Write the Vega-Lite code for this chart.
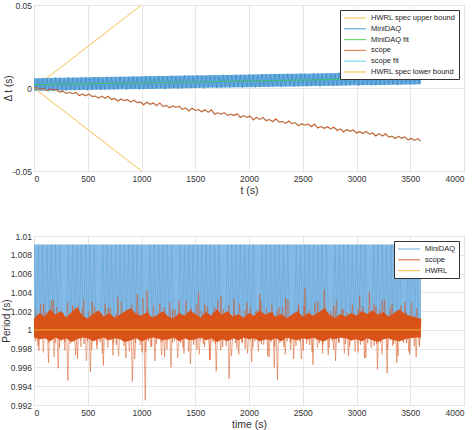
{
"$schema": "https://vega.github.io/schema/vega-lite/v6.json",
"padding": {"left": 0, "top": 0, "right": 0, "bottom": 0},
"bounds": "flush",
"spacing": 65,
"resolve": {"scale": {"color": "independent"}, "legend": {"color": "independent"}},
"config": {
 "font": "Liberation Sans",
 "view": {"stroke": "#7a7a7a", "strokeWidth": 1},
 "axis": {"labelFont": "Liberation Sans", "labelFontSize": 8.5, "labelColor": "#333333", "titleFont": "Liberation Sans", "titleFontSize": 10.5, "titleFontWeight": "normal", "titleColor": "#333333", "gridColor": "#e6e6e6", "domain": false, "ticks": false, "labelPadding": 3, "titlePadding": 3, "labelOverlap": false},
 "axisY": {"titlePadding": -1, "labelPadding": 2.5, "titleFontSize": 10},
 "legend": {"symbolType": "M-1,0H4.5", "symbolSize": 64, "symbolStrokeWidth": 1.2, "labelFont": "Liberation Sans", "labelFontSize": 7.5, "labelColor": "#222222", "rowPadding": 1.8, "padding": 3, "strokeColor": "#333333", "fillColor": "white", "cornerRadius": 0, "labelOffset": 18, "offset": 5, "labelLimit": 200}
},
"datasets": {
 "top_band": [
{"t":0,"v":-0.0017,"v2":0.0058},{"t":200,"v":-0.0015,"v2":0.0062},{"t":400,"v":-0.0012,"v2":0.0064},{"t":600,"v":-0.0011,"v2":0.0066},{"t":800,"v":-0.0008,"v2":0.0068},{"t":1000,"v":-0.0006,"v2":0.0071},{"t":1200,"v":-0.0004,"v2":0.0072},{"t":1400,"v":-0.0002,"v2":0.0075},{"t":1600,"v":0.0001,"v2":0.0077},{"t":1800,"v":0.0003,"v2":0.0079},
{"t":2000,"v":0.0005,"v2":0.0081},{"t":2200,"v":0.0007,"v2":0.0084},{"t":2400,"v":0.0009,"v2":0.0086},{"t":2600,"v":0.0012,"v2":0.0088},{"t":2800,"v":0.0013,"v2":0.009},{"t":3000,"v":0.0016,"v2":0.0092},{"t":3200,"v":0.0018,"v2":0.0095},{"t":3400,"v":0.002,"v2":0.0096},{"t":3600,"v":0.0022,"v2":0.0098}
 ],
 "top_mini": [
{"t":0,"v":0.0058},{"t":20,"v":-0.0018},{"t":40,"v":0.0055},{"t":60,"v":-0.0015},{"t":80,"v":0.0061},{"t":100,"v":-0.0012},{"t":120,"v":0.0059},{"t":140,"v":-0.002},{"t":160,"v":0.0056},
{"t":180,"v":-0.0014},{"t":200,"v":0.0062},{"t":220,"v":-0.0011},{"t":240,"v":0.0059},{"t":260,"v":-0.0017},{"t":280,"v":0.0056},{"t":300,"v":-0.0015},{"t":320,"v":0.0064},{"t":340,"v":-0.0012},
{"t":360,"v":0.0062},{"t":380,"v":-0.0014},{"t":400,"v":0.0059},{"t":420,"v":-0.0011},{"t":440,"v":0.0065},{"t":460,"v":-0.0008},{"t":480,"v":0.0063},{"t":500,"v":-0.0016},{"t":520,"v":0.006},
{"t":540,"v":-0.001},{"t":560,"v":0.0066},{"t":580,"v":-0.0007},{"t":600,"v":0.0063},{"t":620,"v":-0.0013},{"t":640,"v":0.006},{"t":660,"v":-0.0011},{"t":680,"v":0.0068},{"t":700,"v":-0.0008},
{"t":720,"v":0.0066},{"t":740,"v":-0.001},{"t":760,"v":0.0063},{"t":780,"v":-0.0007},{"t":800,"v":0.0069},{"t":820,"v":-0.0004},{"t":840,"v":0.0067},{"t":860,"v":-0.0012},{"t":880,"v":0.0064},
{"t":900,"v":-0.0006},{"t":920,"v":0.007},{"t":940,"v":-0.0003},{"t":960,"v":0.0067},{"t":980,"v":-0.0009},{"t":1000,"v":0.0064},{"t":1020,"v":-0.0007},{"t":1040,"v":0.0072},{"t":1060,"v":-0.0004},
{"t":1080,"v":0.007},{"t":1100,"v":-0.0006},{"t":1120,"v":0.0067},{"t":1140,"v":-0.0003},{"t":1160,"v":0.0073},{"t":1180,"v":0},{"t":1200,"v":0.0071},{"t":1220,"v":-0.0008},{"t":1240,"v":0.0068},
{"t":1260,"v":-0.0002},{"t":1280,"v":0.0074},{"t":1300,"v":0.0001},{"t":1320,"v":0.0071},{"t":1340,"v":-0.0005},{"t":1360,"v":0.0068},{"t":1380,"v":-0.0003},{"t":1400,"v":0.0076},{"t":1420,"v":0},
{"t":1440,"v":0.0074},{"t":1460,"v":-0.0002},{"t":1480,"v":0.0071},{"t":1500,"v":0.0001},{"t":1520,"v":0.0077},{"t":1540,"v":0.0004},{"t":1560,"v":0.0075},{"t":1580,"v":-0.0004},{"t":1600,"v":0.0072},
{"t":1620,"v":0.0002},{"t":1640,"v":0.0078},{"t":1660,"v":0.0005},{"t":1680,"v":0.0075},{"t":1700,"v":-0.0001},{"t":1720,"v":0.0072},{"t":1740,"v":0.0001},{"t":1760,"v":0.008},{"t":1780,"v":0.0004},
{"t":1800,"v":0.0078},{"t":1820,"v":0.0002},{"t":1840,"v":0.0075},{"t":1860,"v":0.0005},{"t":1880,"v":0.0081},{"t":1900,"v":0.0008},{"t":1920,"v":0.0079},{"t":1940,"v":0},{"t":1960,"v":0.0076},
{"t":1980,"v":0.0006},{"t":2000,"v":0.0082},{"t":2020,"v":0.0009},{"t":2040,"v":0.0079},{"t":2060,"v":0.0003},{"t":2080,"v":0.0076},{"t":2100,"v":0.0005},{"t":2120,"v":0.0084},{"t":2140,"v":0.0008},
{"t":2160,"v":0.0082},{"t":2180,"v":0.0006},{"t":2200,"v":0.0079},{"t":2220,"v":0.0009},{"t":2240,"v":0.0085},{"t":2260,"v":0.0012},{"t":2280,"v":0.0083},{"t":2300,"v":0.0004},{"t":2320,"v":0.008},
{"t":2340,"v":0.001},{"t":2360,"v":0.0086},{"t":2380,"v":0.0013},{"t":2400,"v":0.0083},{"t":2420,"v":0.0007},{"t":2440,"v":0.008},{"t":2460,"v":0.0009},{"t":2480,"v":0.0088},{"t":2500,"v":0.0012},
{"t":2520,"v":0.0086},{"t":2540,"v":0.001},{"t":2560,"v":0.0083},{"t":2580,"v":0.0013},{"t":2600,"v":0.0089},{"t":2620,"v":0.0016},{"t":2640,"v":0.0087},{"t":2660,"v":0.0008},{"t":2680,"v":0.0084},
{"t":2700,"v":0.0014},{"t":2720,"v":0.009},{"t":2740,"v":0.0017},{"t":2760,"v":0.0087},{"t":2780,"v":0.0011},{"t":2800,"v":0.0084},{"t":2820,"v":0.0013},{"t":2840,"v":0.0092},{"t":2860,"v":0.0016},
{"t":2880,"v":0.009},{"t":2900,"v":0.0014},{"t":2920,"v":0.0087},{"t":2940,"v":0.0017},{"t":2960,"v":0.0093},{"t":2980,"v":0.002},{"t":3000,"v":0.0091},{"t":3020,"v":0.0012},{"t":3040,"v":0.0088},
{"t":3060,"v":0.0018},{"t":3080,"v":0.0094},{"t":3100,"v":0.0021},{"t":3120,"v":0.0091},{"t":3140,"v":0.0015},{"t":3160,"v":0.0088},{"t":3180,"v":0.0017},{"t":3200,"v":0.0096},{"t":3220,"v":0.002},
{"t":3240,"v":0.0094},{"t":3260,"v":0.0018},{"t":3280,"v":0.0091},{"t":3300,"v":0.0021},{"t":3320,"v":0.0097},{"t":3340,"v":0.0024},{"t":3360,"v":0.0095},{"t":3380,"v":0.0016},{"t":3400,"v":0.0092},
{"t":3420,"v":0.0022},{"t":3440,"v":0.0098},{"t":3460,"v":0.0025},{"t":3480,"v":0.0095},{"t":3500,"v":0.0019},{"t":3520,"v":0.0092},{"t":3540,"v":0.0021},{"t":3560,"v":0.01},{"t":3580,"v":0.0024},
{"t":3600,"v":0.0097}
 ],
 "top_scope": [
{"t":0,"v":0},{"t":30,"v":0.0001},{"t":60,"v":-0.0008},{"t":90,"v":-0.0002},{"t":120,"v":-0.0016},{"t":150,"v":-0.0005},{"t":180,"v":-0.0014},{"t":210,"v":-0.0009},{"t":240,"v":-0.0025},{"t":270,"v":-0.0019},
{"t":300,"v":-0.0033},{"t":330,"v":-0.0026},{"t":360,"v":-0.0034},{"t":390,"v":-0.0026},{"t":420,"v":-0.0046},{"t":450,"v":-0.0036},{"t":480,"v":-0.0048},{"t":510,"v":-0.0035},{"t":540,"v":-0.0051},{"t":570,"v":-0.0049},
{"t":600,"v":-0.0061},{"t":630,"v":-0.0049},{"t":660,"v":-0.0062},{"t":690,"v":-0.0049},{"t":720,"v":-0.007},{"t":750,"v":-0.0063},{"t":780,"v":-0.0079},{"t":810,"v":-0.0066},{"t":840,"v":-0.0076},{"t":870,"v":-0.007},
{"t":900,"v":-0.0085},{"t":930,"v":-0.0073},{"t":960,"v":-0.0088},{"t":990,"v":-0.0085},{"t":1020,"v":-0.0101},{"t":1050,"v":-0.0086},{"t":1080,"v":-0.0098},{"t":1110,"v":-0.009},{"t":1140,"v":-0.0107},{"t":1170,"v":-0.009},
{"t":1200,"v":-0.0111},{"t":1230,"v":-0.0105},{"t":1260,"v":-0.012},{"t":1290,"v":-0.0108},{"t":1320,"v":-0.0117},{"t":1350,"v":-0.0109},{"t":1380,"v":-0.0129},{"t":1410,"v":-0.012},{"t":1440,"v":-0.0139},{"t":1470,"v":-0.0122},
{"t":1500,"v":-0.0135},{"t":1530,"v":-0.013},{"t":1560,"v":-0.0143},{"t":1590,"v":-0.0131},{"t":1620,"v":-0.0147},{"t":1650,"v":-0.0131},{"t":1680,"v":-0.0158},{"t":1710,"v":-0.0149},{"t":1740,"v":-0.0158},{"t":1770,"v":-0.0148},
{"t":1800,"v":-0.0165},{"t":1830,"v":-0.0157},{"t":1860,"v":-0.0166},{"t":1890,"v":-0.0155},{"t":1920,"v":-0.0178},{"t":1950,"v":-0.0166},{"t":1980,"v":-0.0177},{"t":2010,"v":-0.017},{"t":2040,"v":-0.0193},{"t":2070,"v":-0.0177},
{"t":2100,"v":-0.0189},{"t":2130,"v":-0.0178},{"t":2160,"v":-0.0196},{"t":2190,"v":-0.019},{"t":2220,"v":-0.0203},{"t":2250,"v":-0.0186},{"t":2280,"v":-0.0206},{"t":2310,"v":-0.0201},{"t":2340,"v":-0.0213},{"t":2370,"v":-0.0199},
{"t":2400,"v":-0.0215},{"t":2430,"v":-0.0208},{"t":2460,"v":-0.0228},{"t":2490,"v":-0.0215},{"t":2520,"v":-0.0224},{"t":2550,"v":-0.0216},{"t":2580,"v":-0.0233},{"t":2610,"v":-0.0217},{"t":2640,"v":-0.0241},{"t":2670,"v":-0.0232},
{"t":2700,"v":-0.0243},{"t":2730,"v":-0.0233},{"t":2760,"v":-0.0246},{"t":2790,"v":-0.0236},{"t":2820,"v":-0.0256},{"t":2850,"v":-0.0246},{"t":2880,"v":-0.0265},{"t":2910,"v":-0.025},{"t":2940,"v":-0.0261},{"t":2970,"v":-0.0252},
{"t":3000,"v":-0.0271},{"t":3030,"v":-0.0263},{"t":3060,"v":-0.0274},{"t":3090,"v":-0.0261},{"t":3120,"v":-0.0278},{"t":3150,"v":-0.0271},{"t":3180,"v":-0.0289},{"t":3210,"v":-0.0275},{"t":3240,"v":-0.0289},{"t":3270,"v":-0.0276},
{"t":3300,"v":-0.0296},{"t":3330,"v":-0.029},{"t":3360,"v":-0.0304},{"t":3390,"v":-0.0291},{"t":3420,"v":-0.0303},{"t":3450,"v":-0.0294},{"t":3480,"v":-0.0313},{"t":3510,"v":-0.0304},{"t":3540,"v":-0.0316},{"t":3570,"v":-0.0305},
{"t":3600,"v":-0.032}
 ],
 "bot_band": [
{"t":0,"v":1,"v2":1.0091},{"t":3600,"v":1,"v2":1.0091}
 ],
 "bot_core": [
{"t":0,"v2":1.0012,"v":0.9992},{"t":50,"v2":1.0018,"v":0.999},{"t":100,"v2":1.0014,"v":0.9991},{"t":150,"v2":1.0022,"v":0.9988},{"t":200,"v2":1.0016,"v":0.9992},{"t":250,"v2":1.002,"v":0.9989},{"t":300,"v2":1.0013,"v":0.9991},{"t":350,"v2":1.0019,"v":0.9987},{"t":400,"v2":1.0024,"v":0.999},{"t":450,"v2":1.0015,"v":0.9992},
{"t":500,"v2":1.0012,"v":0.9991},{"t":550,"v2":1.0017,"v":0.9988},{"t":600,"v2":1.0021,"v":0.999},{"t":650,"v2":1.0014,"v":0.9992},{"t":700,"v2":1.0018,"v":0.9989},{"t":750,"v2":1.0013,"v":0.9991},{"t":800,"v2":1.0016,"v":0.999},{"t":850,"v2":1.002,"v":0.9987},{"t":900,"v2":1.0023,"v":0.9989},{"t":950,"v2":1.0017,"v":0.9991},
{"t":1000,"v2":1.0015,"v":0.9988},{"t":1050,"v2":1.0019,"v":0.999},{"t":1100,"v2":1.0013,"v":0.9992},{"t":1150,"v2":1.0016,"v":0.9991},{"t":1200,"v2":1.002,"v":0.9989},{"t":1250,"v2":1.0014,"v":0.999},{"t":1300,"v2":1.0012,"v":0.9992},{"t":1350,"v2":1.0018,"v":0.9988},{"t":1400,"v2":1.0015,"v":0.9991},{"t":1450,"v2":1.0021,"v":0.9989},
{"t":1500,"v2":1.0017,"v":0.999},{"t":1550,"v2":1.0013,"v":0.9992},{"t":1600,"v2":1.0019,"v":0.9989},{"t":1650,"v2":1.0015,"v":0.9991},{"t":1700,"v2":1.0022,"v":0.9987},{"t":1750,"v2":1.0016,"v":0.999},{"t":1800,"v2":1.002,"v":0.9988},{"t":1850,"v2":1.0014,"v":0.9991},{"t":1900,"v2":1.0017,"v":0.9989},{"t":1950,"v2":1.0013,"v":0.9992},
{"t":2000,"v2":1.0018,"v":0.999},{"t":2050,"v2":1.0015,"v":0.9991},{"t":2100,"v2":1.0021,"v":0.9988},{"t":2150,"v2":1.0016,"v":0.999},{"t":2200,"v2":1.0019,"v":0.9989},{"t":2250,"v2":1.0014,"v":0.9991},{"t":2300,"v2":1.0017,"v":0.9988},{"t":2350,"v2":1.0012,"v":0.9992},{"t":2400,"v2":1.0016,"v":0.999},{"t":2450,"v2":1.002,"v":0.9989},
{"t":2500,"v2":1.0014,"v":0.9991},{"t":2550,"v2":1.0018,"v":0.999},{"t":2600,"v2":1.0015,"v":0.9992},{"t":2650,"v2":1.0019,"v":0.9989},{"t":2700,"v2":1.0023,"v":0.9988},{"t":2750,"v2":1.0016,"v":0.9991},{"t":2800,"v2":1.0013,"v":0.999},{"t":2850,"v2":1.0017,"v":0.9992},{"t":2900,"v2":1.0014,"v":0.9991},{"t":2950,"v2":1.0018,"v":0.9989},
{"t":3000,"v2":1.0015,"v":0.999},{"t":3050,"v2":1.002,"v":0.9988},{"t":3100,"v2":1.0017,"v":0.9991},{"t":3150,"v2":1.0021,"v":0.9989},{"t":3200,"v2":1.0016,"v":0.9987},{"t":3250,"v2":1.0019,"v":0.999},{"t":3300,"v2":1.0014,"v":0.9991},{"t":3350,"v2":1.0018,"v":0.9989},{"t":3400,"v2":1.0022,"v":0.9988},{"t":3450,"v2":1.0017,"v":0.999},
{"t":3500,"v2":1.0015,"v":0.9991},{"t":3550,"v2":1.0013,"v":0.9992},{"t":3600,"v2":1.0012,"v":0.9992}
 ],
 "bot_spikes": [
{"t":12,"v":1.0022},{"t":37,"v":0.9983},{"t":62,"v":1.0027},{"t":87,"v":0.9976},{"t":112,"v":1.0019},{"t":137,"v":0.9986},{"t":162,"v":1.0031},{"t":187,"v":0.9971},{"t":212,"v":1.0024},{"t":237,"v":0.9981},
{"t":262,"v":1.0018},{"t":287,"v":0.9978},{"t":312,"v":1.0029},{"t":337,"v":0.9985},{"t":362,"v":1.0021},{"t":387,"v":0.9973},{"t":412,"v":1.0026},{"t":437,"v":0.9982},{"t":462,"v":1.0033},{"t":487,"v":0.9967},
{"t":512,"v":1.002},{"t":537,"v":0.9979},{"t":562,"v":1.0025},{"t":587,"v":0.9984},{"t":612,"v":1.0019},{"t":637,"v":0.9975},{"t":662,"v":1.0028},{"t":687,"v":0.9981},{"t":712,"v":1.0023},{"t":737,"v":0.9986},
{"t":762,"v":1.0017},{"t":787,"v":0.9972},{"t":812,"v":1.003},{"t":837,"v":0.9983},{"t":862,"v":1.0022},{"t":887,"v":0.9977},{"t":912,"v":1.0027},{"t":937,"v":0.9969},{"t":962,"v":1.002},{"t":987,"v":0.9984},
{"t":1012,"v":1.0034},{"t":1037,"v":0.9976},{"t":1062,"v":1.0021},{"t":1087,"v":0.9982},{"t":1112,"v":1.0026},{"t":1137,"v":0.9985},{"t":1162,"v":1.0018},{"t":1187,"v":0.9973},{"t":1212,"v":1.0024},{"t":1237,"v":0.9979},
{"t":1262,"v":1.0029},{"t":1287,"v":0.9986},{"t":1312,"v":1.0022},{"t":1337,"v":0.997},{"t":1362,"v":1.0017},{"t":1387,"v":0.9981},{"t":1412,"v":1.0031},{"t":1437,"v":0.9977},{"t":1462,"v":1.0023},{"t":1487,"v":0.9984},
{"t":1512,"v":1.0027},{"t":1537,"v":0.9974},{"t":1562,"v":1.002},{"t":1587,"v":0.9982},{"t":1612,"v":1.0025},{"t":1637,"v":0.9968},{"t":1662,"v":1.0019},{"t":1687,"v":0.9985},{"t":1712,"v":1.0032},{"t":1737,"v":0.9978},
{"t":1762,"v":1.0022},{"t":1787,"v":0.9983},{"t":1812,"v":1.0026},{"t":1837,"v":0.9972},{"t":1862,"v":1.0018},{"t":1887,"v":0.998},{"t":1912,"v":1.0028},{"t":1937,"v":0.9986},{"t":1962,"v":1.0021},{"t":1987,"v":0.9975},
{"t":2012,"v":1.0024},{"t":2037,"v":0.9981},{"t":2062,"v":1.0019},{"t":2087,"v":0.9977},{"t":2112,"v":1.003},{"t":2137,"v":0.9984},{"t":2162,"v":1.0023},{"t":2187,"v":0.9971},{"t":2212,"v":1.0027},{"t":2237,"v":0.9982},
{"t":2262,"v":1.002},{"t":2287,"v":0.9986},{"t":2312,"v":1.0025},{"t":2337,"v":0.9974},{"t":2362,"v":1.0033},{"t":2387,"v":0.9979},{"t":2412,"v":1.0018},{"t":2437,"v":0.9983},{"t":2462,"v":1.0022},{"t":2487,"v":0.9969},
{"t":2512,"v":1.0026},{"t":2537,"v":0.9985},{"t":2562,"v":1.0021},{"t":2587,"v":0.9976},{"t":2612,"v":1.0029},{"t":2637,"v":0.9981},{"t":2662,"v":1.0017},{"t":2687,"v":0.9984},{"t":2712,"v":1.0024},{"t":2737,"v":0.9973},
{"t":2762,"v":1.002},{"t":2787,"v":0.9979},{"t":2812,"v":1.0031},{"t":2837,"v":0.9986},{"t":2862,"v":1.0023},{"t":2887,"v":0.9975},{"t":2912,"v":1.0019},{"t":2937,"v":0.9982},{"t":2962,"v":1.0027},{"t":2987,"v":0.9977},
{"t":3012,"v":1.0022},{"t":3037,"v":0.9984},{"t":3062,"v":1.0025},{"t":3087,"v":0.997},{"t":3112,"v":1.0018},{"t":3137,"v":0.9981},{"t":3162,"v":1.0028},{"t":3187,"v":0.9985},{"t":3212,"v":1.0021},{"t":3237,"v":0.9974},
{"t":3262,"v":1.0032},{"t":3287,"v":0.9979},{"t":3312,"v":1.0024},{"t":3337,"v":0.9983},{"t":3362,"v":1.002},{"t":3387,"v":0.9972},{"t":3412,"v":1.0026},{"t":3437,"v":0.9986},{"t":3462,"v":1.0019},{"t":3487,"v":0.9977},
{"t":3512,"v":1.0029},{"t":3537,"v":0.9982},{"t":3562,"v":1.0023},{"t":3587,"v":0.9984}
 ],
 "bot_mini": [
{"t":0,"v":1.0091},{"t":20,"v":0.9999},{"t":40,"v":1.0091},{"t":60,"v":1.0002},{"t":80,"v":1.0091},{"t":100,"v":0.9998},{"t":120,"v":1.009},{"t":140,"v":1.0001},{"t":160,"v":1.0091},{"t":180,"v":0.9999},
{"t":200,"v":1.0091},{"t":220,"v":1.0002},{"t":240,"v":1.0091},{"t":260,"v":0.9998},{"t":280,"v":1.0001},{"t":300,"v":1.0001},{"t":320,"v":1.0091},{"t":340,"v":0.9999},{"t":360,"v":1.0091},{"t":380,"v":1.0002},
{"t":400,"v":1.009},{"t":420,"v":0.9998},{"t":440,"v":1.0091},{"t":460,"v":1.0001},{"t":480,"v":1.0091},{"t":500,"v":0.9999},{"t":520,"v":1.0091},{"t":540,"v":1.0002},{"t":560,"v":1.0091},{"t":580,"v":0.9998},
{"t":600,"v":1.0001},{"t":620,"v":1.0001},{"t":640,"v":1.0091},{"t":660,"v":0.9999},{"t":680,"v":1.0091},{"t":700,"v":1.0002},{"t":720,"v":1.009},{"t":740,"v":0.9998},{"t":760,"v":1.0091},{"t":780,"v":1.0001},
{"t":800,"v":1.0091},{"t":820,"v":0.9999},{"t":840,"v":1.0091},{"t":860,"v":1.0002},{"t":880,"v":1.0091},{"t":900,"v":0.9998},{"t":920,"v":1.0091},{"t":940,"v":1.0001},{"t":960,"v":1.0091},{"t":980,"v":0.9999},
{"t":1000,"v":1.009},{"t":1020,"v":1.0002},{"t":1040,"v":1.0001},{"t":1060,"v":0.9998},{"t":1080,"v":1.0091},{"t":1100,"v":1.0001},{"t":1120,"v":1.0091},{"t":1140,"v":0.9999},{"t":1160,"v":1.0091},{"t":1180,"v":1.0002},
{"t":1200,"v":1.0091},{"t":1220,"v":0.9998},{"t":1240,"v":1.0091},{"t":1260,"v":1.0001},{"t":1280,"v":1.0091},{"t":1300,"v":0.9999},{"t":1320,"v":1.0001},{"t":1340,"v":1.0002},{"t":1360,"v":1.0091},{"t":1380,"v":0.9998},
{"t":1400,"v":1.009},{"t":1420,"v":1.0001},{"t":1440,"v":1.0091},{"t":1460,"v":0.9999},{"t":1480,"v":1.0091},{"t":1500,"v":1.0002},{"t":1520,"v":1.0091},{"t":1540,"v":0.9998},{"t":1560,"v":1.0091},{"t":1580,"v":1.0001},
{"t":1600,"v":1.0091},{"t":1620,"v":0.9999},{"t":1640,"v":1.0091},{"t":1660,"v":1.0002},{"t":1680,"v":1.009},{"t":1700,"v":0.9998},{"t":1720,"v":1.0091},{"t":1740,"v":1.0001},{"t":1760,"v":1.0001},{"t":1780,"v":0.9999},
{"t":1800,"v":1.0091},{"t":1820,"v":1.0002},{"t":1840,"v":1.0091},{"t":1860,"v":0.9998},{"t":1880,"v":1.0091},{"t":1900,"v":1.0001},{"t":1920,"v":1.0091},{"t":1940,"v":0.9999},{"t":1960,"v":1.0091},{"t":1980,"v":1.0002},
{"t":2000,"v":1.009},{"t":2020,"v":0.9998},{"t":2040,"v":1.0091},{"t":2060,"v":1.0001},{"t":2080,"v":1.0001},{"t":2100,"v":0.9999},{"t":2120,"v":1.0091},{"t":2140,"v":1.0002},{"t":2160,"v":1.0091},{"t":2180,"v":0.9998},
{"t":2200,"v":1.0091},{"t":2220,"v":1.0001},{"t":2240,"v":1.0091},{"t":2260,"v":0.9999},{"t":2280,"v":1.0091},{"t":2300,"v":1.0002},{"t":2320,"v":1.009},{"t":2340,"v":0.9998},{"t":2360,"v":1.0091},{"t":2380,"v":1.0001},
{"t":2400,"v":1.0001},{"t":2420,"v":0.9999},{"t":2440,"v":1.0091},{"t":2460,"v":1.0002},{"t":2480,"v":1.0091},{"t":2500,"v":0.9998},{"t":2520,"v":1.0091},{"t":2540,"v":1.0001},{"t":2560,"v":1.0091},{"t":2580,"v":0.9999},
{"t":2600,"v":1.0091},{"t":2620,"v":1.0002},{"t":2640,"v":1.009},{"t":2660,"v":0.9998},{"t":2680,"v":1.0091},{"t":2700,"v":1.0001},{"t":2720,"v":1.0091},{"t":2740,"v":0.9999},{"t":2760,"v":1.0001},{"t":2780,"v":1.0002},
{"t":2800,"v":1.0091},{"t":2820,"v":0.9998},{"t":2840,"v":1.0091},{"t":2860,"v":1.0001},{"t":2880,"v":1.0091},{"t":2900,"v":0.9999},{"t":2920,"v":1.0091},{"t":2940,"v":1.0002},{"t":2960,"v":1.009},{"t":2980,"v":0.9998},
{"t":3000,"v":1.0091},{"t":3020,"v":1.0001},{"t":3040,"v":1.0091},{"t":3060,"v":0.9999},{"t":3080,"v":1.0091},{"t":3100,"v":1.0002},{"t":3120,"v":1.0001},{"t":3140,"v":0.9998},{"t":3160,"v":1.0091},{"t":3180,"v":1.0001},
{"t":3200,"v":1.0091},{"t":3220,"v":0.9999},{"t":3240,"v":1.0091},{"t":3260,"v":1.0002},{"t":3280,"v":1.009},{"t":3300,"v":0.9998},{"t":3320,"v":1.0091},{"t":3340,"v":1.0001},{"t":3360,"v":1.0091},{"t":3380,"v":0.9999},
{"t":3400,"v":1.0091},{"t":3420,"v":1.0002},{"t":3440,"v":1.0001},{"t":3460,"v":0.9998},{"t":3480,"v":1.0091},{"t":3500,"v":1.0001},{"t":3520,"v":1.0091},{"t":3540,"v":0.9999},{"t":3560,"v":1.0091},{"t":3580,"v":1.0002},
{"t":3600,"v":1.0011}
 ],
 "bot_scope": [
{"t":0,"v":1.0009},{"t":15,"v":0.9988},{"t":30,"v":1.0015},{"t":45,"v":0.9978},{"t":60,"v":1.0008},{"t":75,"v":0.999},{"t":90,"v":1.0028},{"t":105,"v":0.9991},{"t":120,"v":1.0011},{"t":135,"v":0.9965},
{"t":150,"v":1.0012},{"t":165,"v":0.9992},{"t":180,"v":1.0032},{"t":195,"v":0.9986},{"t":210,"v":1.001},{"t":225,"v":0.9959},{"t":240,"v":1.0009},{"t":255,"v":0.9989},{"t":270,"v":1.0018},{"t":285,"v":0.9987},
{"t":300,"v":1.0014},{"t":315,"v":0.9946},{"t":330,"v":1.001},{"t":345,"v":0.9991},{"t":360,"v":1.0026},{"t":375,"v":0.9988},{"t":390,"v":1.0008},{"t":405,"v":0.9969},{"t":420,"v":1.0013},{"t":435,"v":0.999},
{"t":450,"v":1.0022},{"t":465,"v":0.9985},{"t":480,"v":1.0009},{"t":495,"v":0.9988},{"t":510,"v":1.0011},{"t":525,"v":0.9955},{"t":540,"v":1.003},{"t":555,"v":0.9992},{"t":570,"v":1.0012},{"t":585,"v":0.998},
{"t":600,"v":1.001},{"t":615,"v":0.9987},{"t":630,"v":1.0017},{"t":645,"v":0.9962},{"t":660,"v":1.0009},{"t":675,"v":0.9989},{"t":690,"v":1.0024},{"t":705,"v":0.9991},{"t":720,"v":1.0014},{"t":735,"v":0.9973},
{"t":750,"v":1.0011},{"t":765,"v":0.9984},{"t":780,"v":1.0035},{"t":795,"v":0.999},{"t":810,"v":1.0012},{"t":825,"v":0.9988},{"t":840,"v":1.0009},{"t":855,"v":0.997},{"t":870,"v":1.0019},{"t":885,"v":0.9989},
{"t":900,"v":1.0013},{"t":915,"v":0.9945},{"t":930,"v":1.001},{"t":945,"v":0.9986},{"t":960,"v":1.0038},{"t":975,"v":0.9991},{"t":990,"v":1.0012},{"t":1005,"v":0.9976},{"t":1020,"v":1.0011},{"t":1035,"v":0.9925},
{"t":1050,"v":1.0042},{"t":1065,"v":0.9988},{"t":1080,"v":1.0009},{"t":1095,"v":0.9982},{"t":1110,"v":1.0014},{"t":1125,"v":0.9967},{"t":1140,"v":1.0011},{"t":1155,"v":0.999},{"t":1170,"v":1.0028},{"t":1185,"v":0.9987},
{"t":1200,"v":1.001},{"t":1215,"v":0.9971},{"t":1230,"v":1.0016},{"t":1245,"v":0.9989},{"t":1260,"v":1.0009},{"t":1275,"v":0.996},{"t":1290,"v":1.0022},{"t":1305,"v":0.9988},{"t":1320,"v":1.0013},{"t":1335,"v":0.9991},
{"t":1350,"v":1.0031},{"t":1365,"v":0.9986},{"t":1380,"v":1.0011},{"t":1395,"v":0.9975},{"t":1410,"v":1.0012},{"t":1425,"v":0.999},{"t":1440,"v":1.0018},{"t":1455,"v":0.9964},{"t":1470,"v":1.0009},{"t":1485,"v":0.9988},
{"t":1500,"v":1.0014},{"t":1515,"v":0.9979},{"t":1530,"v":1.004},{"t":1545,"v":0.9989},{"t":1560,"v":1.001},{"t":1575,"v":0.9985},{"t":1590,"v":1.0027},{"t":1605,"v":0.9991},{"t":1620,"v":1.0012},{"t":1635,"v":0.9968},
{"t":1650,"v":1.0011},{"t":1665,"v":0.9987},{"t":1680,"v":1.0024},{"t":1695,"v":0.9956},{"t":1710,"v":1.0009},{"t":1725,"v":0.9988},{"t":1740,"v":1.0036},{"t":1755,"v":0.9982},{"t":1770,"v":1.0013},{"t":1785,"v":0.999},
{"t":1800,"v":1.0015},{"t":1815,"v":0.9948},{"t":1830,"v":1.001},{"t":1845,"v":0.9989},{"t":1860,"v":1.0033},{"t":1875,"v":0.9986},{"t":1890,"v":1.0012},{"t":1905,"v":0.9974},{"t":1920,"v":1.0009},{"t":1935,"v":0.9987},
{"t":1950,"v":1.0012},{"t":1965,"v":0.998},{"t":1980,"v":1.0029},{"t":1995,"v":0.999},{"t":2010,"v":1.0011},{"t":2025,"v":0.9966},{"t":2040,"v":1.0014},{"t":2055,"v":0.9988},{"t":2070,"v":1.0021},{"t":2085,"v":0.9991},
{"t":2100,"v":1.0038},{"t":2115,"v":0.9985},{"t":2130,"v":1.001},{"t":2145,"v":0.9989},{"t":2160,"v":1.0013},{"t":2175,"v":0.9972},{"t":2190,"v":1.0009},{"t":2205,"v":0.9987},{"t":2220,"v":1.0019},{"t":2235,"v":0.996},
{"t":2250,"v":1.0012},{"t":2265,"v":0.9947},{"t":2280,"v":1.0024},{"t":2295,"v":0.999},{"t":2310,"v":1.0011},{"t":2325,"v":0.9982},{"t":2340,"v":1.0034},{"t":2355,"v":0.9988},{"t":2370,"v":1.0009},{"t":2385,"v":0.9986},
{"t":2400,"v":1.0016},{"t":2415,"v":0.9969},{"t":2430,"v":1.0012},{"t":2445,"v":0.9991},{"t":2460,"v":1.0027},{"t":2475,"v":0.9987},{"t":2490,"v":1.001},{"t":2505,"v":0.9978},{"t":2520,"v":1.0045},{"t":2535,"v":0.9989},
{"t":2550,"v":1.0009},{"t":2565,"v":0.9984},{"t":2580,"v":1.0013},{"t":2595,"v":0.9963},{"t":2610,"v":1.0011},{"t":2625,"v":0.999},{"t":2640,"v":1.003},{"t":2655,"v":0.9986},{"t":2670,"v":1.0012},{"t":2685,"v":0.9975},
{"t":2700,"v":1.0043},{"t":2715,"v":0.9989},{"t":2730,"v":1.001},{"t":2745,"v":0.9981},{"t":2760,"v":1.0014},{"t":2775,"v":0.9988},{"t":2790,"v":1.0026},{"t":2805,"v":0.9967},{"t":2820,"v":1.0009},{"t":2835,"v":0.9987},
{"t":2850,"v":1.0012},{"t":2865,"v":0.9991},{"t":2880,"v":1.0022},{"t":2895,"v":0.9985},{"t":2910,"v":1.0011},{"t":2925,"v":0.9972},{"t":2940,"v":1.001},{"t":2955,"v":0.9988},{"t":2970,"v":1.0017},{"t":2985,"v":0.999},
{"t":3000,"v":1.0013},{"t":3015,"v":0.9976},{"t":3030,"v":1.0036},{"t":3045,"v":0.9989},{"t":3060,"v":1.0009},{"t":3075,"v":0.997},{"t":3090,"v":1.0012},{"t":3105,"v":0.9986},{"t":3120,"v":1.0041},{"t":3135,"v":0.999},
{"t":3150,"v":1.0011},{"t":3165,"v":0.9983},{"t":3180,"v":1.0025},{"t":3195,"v":0.9958},{"t":3210,"v":1.001},{"t":3225,"v":0.9987},{"t":3240,"v":1.0032},{"t":3255,"v":0.9991},{"t":3270,"v":1.0014},{"t":3285,"v":0.9954},
{"t":3300,"v":1.0012},{"t":3315,"v":0.9989},{"t":3330,"v":1.0028},{"t":3345,"v":0.9985},{"t":3360,"v":1.0009},{"t":3375,"v":0.9965},{"t":3390,"v":1.0013},{"t":3405,"v":0.999},{"t":3420,"v":1.002},{"t":3435,"v":0.9988},
{"t":3450,"v":1.003},{"t":3465,"v":0.9986},{"t":3480,"v":1.0011},{"t":3495,"v":0.9974},{"t":3510,"v":1.001},{"t":3525,"v":0.9991},{"t":3540,"v":1.0015},{"t":3555,"v":0.9971},{"t":3570,"v":1.0012},{"t":3585,"v":0.9982},
{"t":3600,"v":1.001}
 ]
},
"vconcat": [
 {
  "width": 430, "height": 166,
  "encoding": {
   "x": {"field": "t", "type": "quantitative", "scale": {"domain": [0, 4000], "nice": false}, "axis": {"values": [0,500,1000,1500,2000,2500,3000,3500,4000], "format": "d", "title": "t (s)"}},
   "y": {"field": "v", "type": "quantitative", "scale": {"domain": [-0.05, 0.05], "nice": false, "zero": false}, "axis": {"values": [-0.05, 0, 0.05], "labelExpr": "datum.value == 0 ? '0' : (datum.value < 0 ? '-0.05' : '0.05')", "title": "Δ t (s)", "labelOverlap": false}}
  },
  "layer": [
   {"data": {"values": [{"t":0,"v":0},{"t":1000,"v":0.05}]},
    "mark": {"type": "line", "strokeWidth": 0.8, "clip": true},
    "encoding": {
     "color": {"datum": "HWRL spec upper bound", "scale": {"domain": ["HWRL spec upper bound","MiniDAQ","MiniDAQ fit","scope","scope fit","HWRL spec lower bound"], "range": ["#EDB120","#2F86C8","#33CC33","#D95319","#33D6E0","#EDB120"]}, "legend": {"title": null, "orient": "top-right"}}
    }},
   {"data": {"name": "top_band"}, "mark": {"type": "area", "color": "#4F9DD8", "opacity": 0.85, "clip": true},
    "encoding": {"y2": {"field": "v2"}}},
   {"data": {"name": "top_mini"}, "mark": {"type": "line", "strokeWidth": 0.6, "clip": true},
    "encoding": {"color": {"datum": "MiniDAQ"}}},
   {"data": {"values": [{"t":0,"v":0.002},{"t":3600,"v":0.006}]}, "mark": {"type": "line", "strokeWidth": 0.9, "opacity": 0.7, "clip": true},
    "encoding": {"color": {"datum": "MiniDAQ fit"}}},
   {"data": {"name": "top_scope"}, "mark": {"type": "line", "strokeWidth": 1.1, "clip": true},
    "encoding": {"color": {"datum": "scope"}}},
   {"data": {"values": [{"t":0,"v":0},{"t":3600,"v":-0.0317}]}, "mark": {"type": "line", "strokeWidth": 0.6, "opacity": 0.4, "clip": true},
    "encoding": {"color": {"datum": "scope fit"}}},
   {"data": {"values": [{"t":0,"v":0},{"t":1000,"v":-0.05}]}, "mark": {"type": "line", "strokeWidth": 0.8, "clip": true},
    "encoding": {"color": {"datum": "HWRL spec lower bound"}}}
  ]
 },
 {
  "width": 430, "height": 169,
  "encoding": {
   "x": {"field": "t", "type": "quantitative", "scale": {"domain": [0, 4000], "nice": false}, "axis": {"values": [0,500,1000,1500,2000,2500,3000,3500,4000], "format": "d", "title": "time (s)"}},
   "y": {"field": "v", "type": "quantitative", "scale": {"domain": [0.992, 1.01], "nice": false, "zero": false}, "axis": {"values": [0.992,0.994,0.996,0.998,1,1.002,1.004,1.006,1.008,1.01], "format": ".3~f", "title": "Period (s)", "labelOverlap": false}}
  },
  "layer": [
   {"data": {"name": "bot_band"}, "mark": {"type": "area", "color": "#84BAE4", "opacity": 1, "clip": true},
    "encoding": {"y2": {"field": "v2"}}},
   {"data": {"name": "bot_mini"}, "mark": {"type": "line", "strokeWidth": 0.5, "clip": true},
    "encoding": {
     "color": {"datum": "MiniDAQ", "scale": {"domain": ["MiniDAQ","scope","HWRL"], "range": ["#5FA2D8","#D95319","#F2B035"]}, "legend": {"title": null, "orient": "top-right"}}
    }},
   {"data": {"name": "bot_core"}, "mark": {"type": "area", "color": "#D95319", "opacity": 1, "clip": true},
    "encoding": {"y2": {"field": "v2"}}},
   {"data": {"name": "bot_spikes"}, "mark": {"type": "line", "strokeWidth": 0.6, "opacity": 0.75, "clip": true},
    "encoding": {"color": {"datum": "scope"}}},
   {"data": {"name": "bot_scope"}, "mark": {"type": "line", "strokeWidth": 0.6, "opacity": 0.85, "clip": true},
    "encoding": {"color": {"datum": "scope"}}},
   {"data": {"values": [{"t":0,"v":1},{"t":3600,"v":1}]}, "mark": {"type": "line", "strokeWidth": 1, "clip": true},
    "encoding": {"color": {"datum": "HWRL"}}}
  ]
 }
]
}
